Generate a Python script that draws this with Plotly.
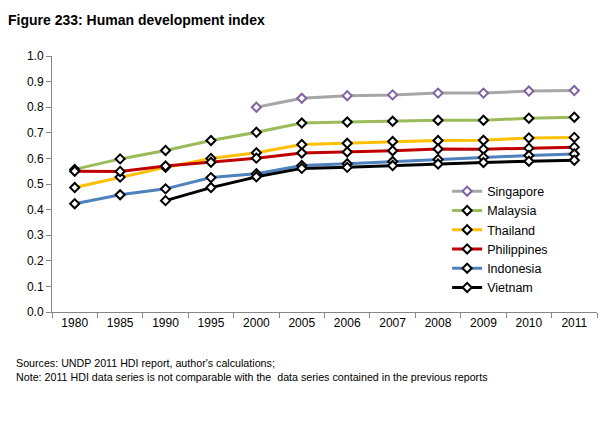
import plotly.graph_objects as go

years = ["1980", "1985", "1990", "1995", "2000", "2005", "2006", "2007", "2008", "2009", "2010", "2011"]

singapore = [None, None, None, None, 0.800, 0.835, 0.845, 0.848, 0.855, 0.855, 0.863, 0.865]
malaysia = [0.557, 0.598, 0.631, 0.670, 0.702, 0.738, 0.742, 0.745, 0.749, 0.749, 0.757, 0.761]
thailand = [0.486, 0.527, 0.565, 0.600, 0.622, 0.654, 0.659, 0.666, 0.670, 0.671, 0.680, 0.682]
philippines = [0.550, 0.549, 0.570, 0.585, 0.601, 0.621, 0.625, 0.630, 0.637, 0.636, 0.640, 0.644]
indonesia = [0.423, 0.458, 0.481, 0.525, 0.540, 0.572, 0.579, 0.588, 0.596, 0.604, 0.611, 0.617]
vietnam = [None, None, 0.435, 0.486, 0.528, 0.561, 0.565, 0.572, 0.578, 0.584, 0.589, 0.593]

series = [
    ("Singapore", singapore, "#A6A6A6", "#8064A2"),
    ("Malaysia", malaysia, "#9BBB59", "#000000"),
    ("Thailand", thailand, "#FFC000", "#000000"),
    ("Philippines", philippines, "#C00000", "#000000"),
    ("Indonesia", indonesia, "#4F81BD", "#000000"),
    ("Vietnam", vietnam, "#000000", "#000000"),
]

fig = go.Figure()
for name, vals, col, mcol in series:
    fig.add_trace(go.Scatter(
        x=years, y=vals, name=name, mode="lines+markers",
        line=dict(color=col, width=3),
        marker=dict(symbol="diamond", size=7, color="white",
                    line=dict(color=mcol, width=2)),
        connectgaps=False,
    ))

axis_col = "#868686"
fig.update_layout(
    width=615, height=427,
    margin=dict(l=52, r=18, t=56, b=115),
    paper_bgcolor="white", plot_bgcolor="white",
    font=dict(family="Liberation Sans, Arial, sans-serif", size=12, color="#000000"),
    showlegend=True,
    legend=dict(x=0.725, y=0.529, xanchor="left", yanchor="top",
                bgcolor="rgba(0,0,0,0)", font=dict(size=12.5),
                tracegroupgap=0, itemwidth=30),
    xaxis=dict(type="category", range=[-0.5, 11.5], showline=True, linecolor=axis_col,
               linewidth=1, ticks="outside", tickcolor=axis_col, ticklen=5,
               tickson="boundaries", showgrid=False, zeroline=False,
               tickfont=dict(size=12)),
    yaxis=dict(range=[0, 1.0], dtick=0.1, tickformat=".1f", showline=True,
               linecolor=axis_col, linewidth=1, ticks="outside", tickcolor=axis_col,
               ticklen=5, showgrid=False, zeroline=False, tickfont=dict(size=12)),
    annotations=[
        dict(text="<b>Figure 233: Human development index</b>", xref="paper", yref="paper",
             x=-46/545, y=1 + 36/256, xanchor="left", yanchor="middle",
             showarrow=False, font=dict(size=14)),
        dict(text="Sources: UNDP 2011 HDI report, author's calculations;", xref="paper", yref="paper",
             x=-38/545, y=-51/256, xanchor="left", yanchor="middle",
             showarrow=False, font=dict(size=10.7)),
        dict(text="Note: 2011 HDI data series is not comparable with the  data series contained in the previous reports",
             xref="paper", yref="paper",
             x=-38/545, y=-65/256, xanchor="left", yanchor="middle",
             showarrow=False, font=dict(size=10.7)),
    ],
)

fig.write_html("out.html")
